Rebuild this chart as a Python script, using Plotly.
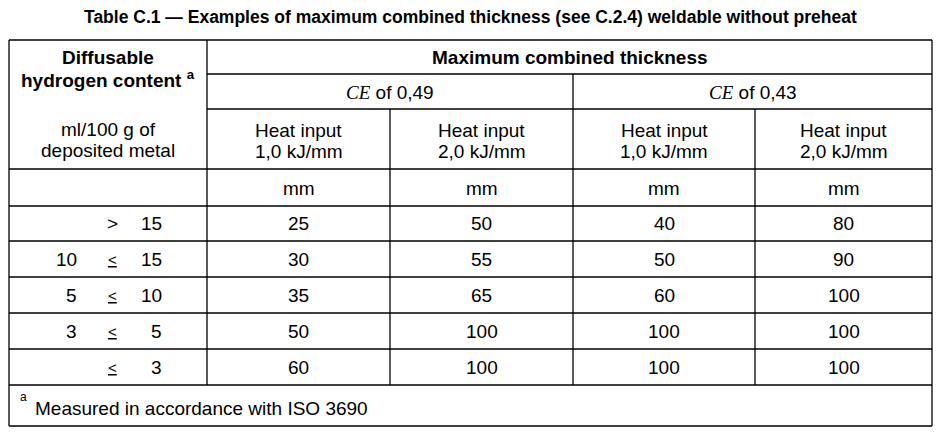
import plotly.graph_objects as go

title = "Table C.1 — Examples of maximum combined thickness (see C.2.4) weldable without preheat"
h_low = ["", "10", "5", "3", ""]
h_op = [">", "≤", "≤", "≤", "≤"]
h_high = ["15", "15", "10", "5", "3"]
ce049_q10 = [25, 30, 35, 50, 60]
ce049_q20 = [50, 55, 65, 100, 100]
ce043_q10 = [40, 50, 60, 100, 100]
ce043_q20 = [80, 90, 100, 100, 100]
ce_labels = ["0,49", "0,43"]
heat_labels = ["1,0 kJ/mm", "2,0 kJ/mm", "1,0 kJ/mm", "2,0 kJ/mm"]

# layout geometry (pixels)
X0, X1 = 9, 932
XC = [207, 390, 573, 755]
Y = [40, 74, 109, 169, 206, 241, 277, 313, 349, 385, 426]

F = "Liberation Sans, Arial, sans-serif"
FS = 19
fig = go.Figure()
shapes = []
def line(x0, y0, x1, y1, w=1.3):
    shapes.append(dict(type="line", x0=x0, y0=y0, x1=x1, y1=y1, xref="x", yref="y",
                       line=dict(color="black", width=w)))
line(X0, Y[0], X1, Y[0]); line(X0, Y[-1], X1, Y[-1])
line(X0, Y[0], X0, Y[-1]); line(X1, Y[0], X1, Y[-1])
line(XC[0], Y[1], X1, Y[1]); line(XC[0], Y[2], X1, Y[2])
for y in Y[3:-1]:
    line(X0, y, X1, y)
line(XC[0], Y[0], XC[0], Y[-2])
line(XC[2], Y[1], XC[2], Y[-2])
line(XC[1], Y[2], XC[1], Y[-2]); line(XC[3], Y[2], XC[3], Y[-2])

ann = []
def t(x, y, s, size=FS, xa="center", bold=False, fam=F):
    if bold:
        s = "<b>" + s + "</b>"
    ann.append(dict(x=x, y=y, text=s, showarrow=False, xref="x", yref="y", xanchor=xa,
                    yanchor="middle", font=dict(family=fam, size=size, color="black")))

t(470, 17, title, size=17.5, bold=True)
t(108, 57, "Diffusable", bold=True)
t(108, 79, "hydrogen content <sup>a</sup>", bold=True)
t(108, 129, "ml/100 g of")
t(108, 150, "deposited metal")
t((XC[0] + X1) / 2, 57, "Maximum combined thickness", bold=True)
cx = [(XC[0] + XC[1]) / 2, (XC[1] + XC[2]) / 2, (XC[2] + XC[3]) / 2, (XC[3] + X1) / 2]
for i, lab in enumerate(ce_labels):
    x = (XC[0] + XC[2]) / 2 if i == 0 else (XC[2] + X1) / 2
    t(x, 92, "<i><span style='font-family:Liberation Serif'>CE</span></i> of " + lab)
for i, lab in enumerate(heat_labels):
    t(cx[i], 130, "Heat input")
    t(cx[i], 151, lab)
    t(cx[i], 188, "mm")
cols = [ce049_q10, ce049_q20, ce043_q10, ce043_q20]
for r in range(5):
    yc = (Y[4 + r] + Y[5 + r]) / 2
    if h_low[r]:
        t(79, yc, h_low[r], xa="right")
    op = h_op[r] if h_op[r] == ">" else "<u>&lt;</u>"
    t(112, yc, op, size=15 if op != ">" else FS)
    t(164, yc, h_high[r], xa="right")
    for c in range(4):
        t(cx[c], yc, str(cols[c][r]))
t(18, 397, "a", size=12, xa="left")
t(33, 408, "Measured in accordance with ISO 3690", xa="left")

fig.update_layout(width=941, height=436, margin=dict(l=0, r=0, t=0, b=0),
                  paper_bgcolor="white", plot_bgcolor="white", shapes=shapes, annotations=ann,
                  xaxis=dict(range=[0, 941], visible=False, fixedrange=True),
                  yaxis=dict(range=[436, 0], visible=False, fixedrange=True), showlegend=False)
fig.write_html("out.html", config={"displayModeBar": False},
               post_script="document.body.style.margin='0';document.body.style.overflow='hidden';")
